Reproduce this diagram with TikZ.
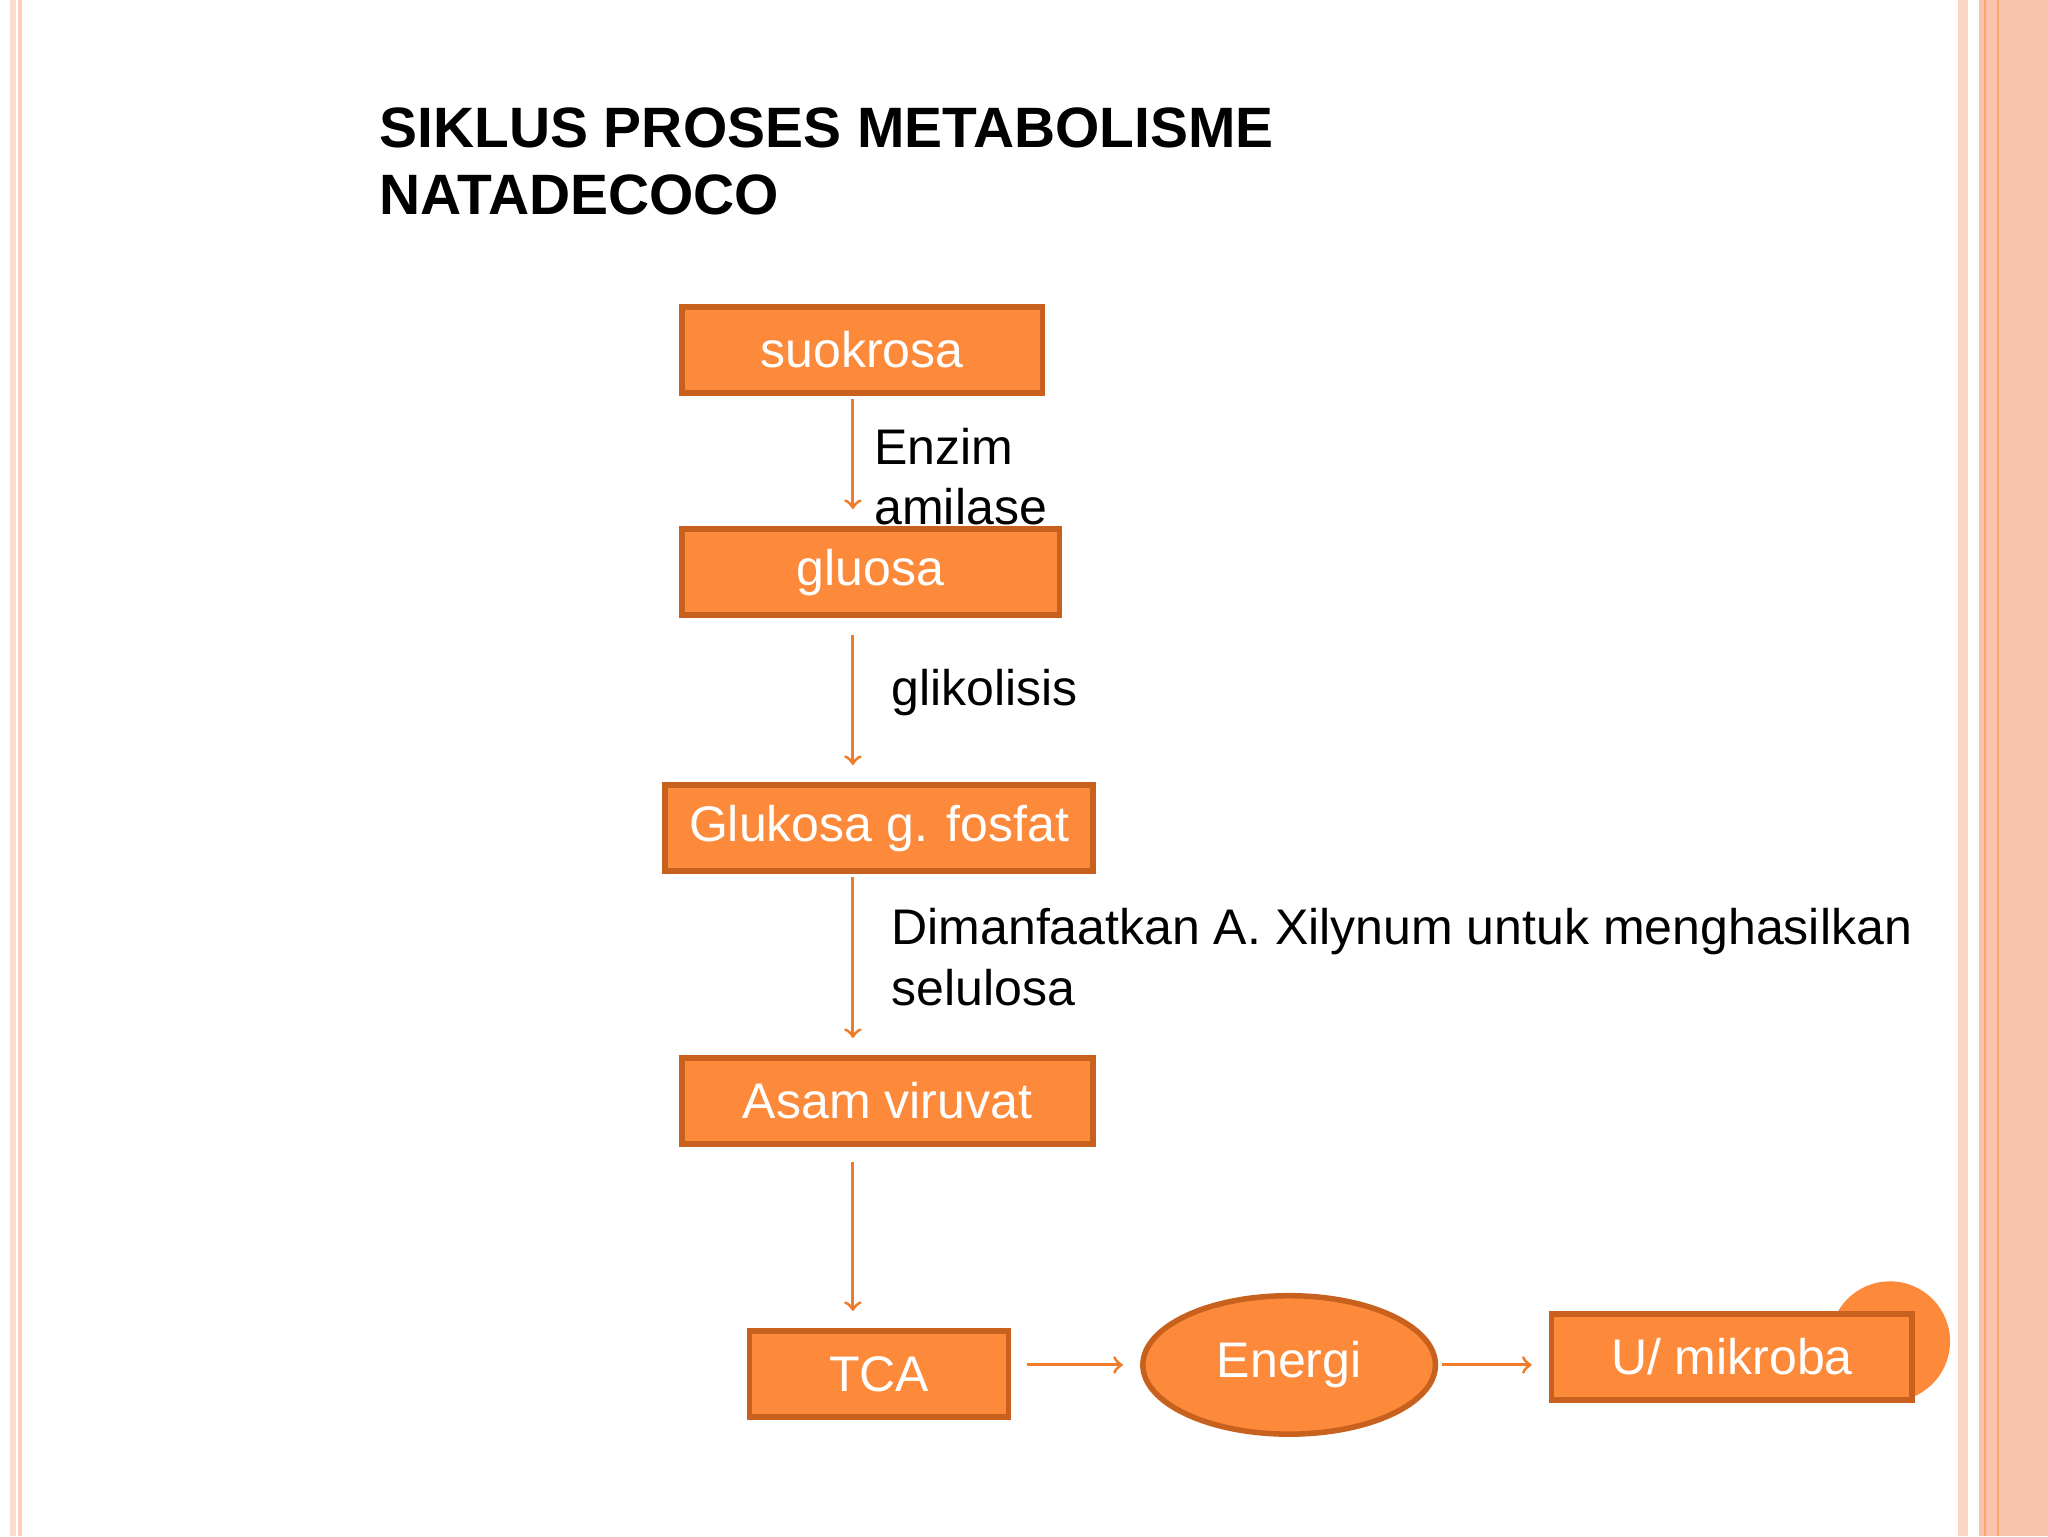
\documentclass[tikz,border=0pt]{standalone}
\usepackage{fontspec}
\setmainfont{Liberation Sans}
\usetikzlibrary{shapes.geometric}
\definecolor{boxfill}{HTML}{FD8A3A}
\definecolor{boxline}{HTML}{C8601E}
\definecolor{flow}{HTML}{F07C2A}
\definecolor{rim}{HTML}{F9C3AE}
\newcommand{\px}{0.0133cm}
\begin{document}
\begin{tikzpicture}[x=\px, y=-\px,
    stage/.style={draw=boxline, line width=1.6pt, fill=boxfill, text=white, font=\fontsize{14.5}{17}\selectfont, inner sep=0pt},
    flowarrow/.style={->, draw=flow, line width=0.9pt, shorten <=1pt, shorten >=5pt},
    note/.style={anchor=north west, align=left, font=\fontsize{14.5}{17.5}\selectfont, inner sep=0pt}]

        %page and border
        \useasboundingbox (0,0) rectangle (1568,1176);
        \fill[white] (0,0) rectangle (1568,1176);
        \fill[rim!60] (8,0) rectangle (12,1176);
        \fill[rim!80] (14,0) rectangle (17,1176);
        \fill[rim!70] (1499,0) rectangle (1507,1176);
        \fill[rim] (1515,0) rectangle (1568,1176);
        \draw[rim!60!orange, line width=0.6pt] (1520,0) -- (1520,1176) (1530,0) -- (1530,1176);

        %title
        \node[anchor=north west, align=left, inner sep=0pt, font=\bfseries\fontsize{16.5}{19.5}\selectfont] (title) at (290,82)
        {SIKLUS PROSES METABOLISME\\NATADECOCO};

        %labels
        \node[note] (enz) at (669,327) {Enzim\\amilase};
        \node[note] (gli) at (682,512) {glikolisis};
        \node[note] (dim) at (682,695) {Dimanfaatkan A. Xilynum untuk menghasilkan\\selulosa};

        %stages
        \fill[boxfill] (1447,1027) circle (46);
        \node[stage, minimum width=276*\px, minimum height=66*\px] (suo) at (660,268) {suokrosa};
        \node[stage, minimum width=289*\px, minimum height=66*\px] (glu) at (666.5,438) {gluosa};
        \node[stage, minimum width=328*\px, minimum height=66*\px] (g6p) at (673,634) {Glukosa g. fosfat};
        \node[stage, minimum width=315*\px, minimum height=66*\px] (asv) at (679.5,843) {Asam viruvat};
        \node[stage, minimum width=198*\px, minimum height=66*\px] (tca) at (673,1052) {TCA};
        \node[stage, ellipse, inner sep=0pt, minimum width=224*\px, minimum height=106*\px] (ene) at (987,1045) {Energi};
        \node[stage, minimum width=276*\px, minimum height=66*\px] (mik) at (1326,1039) {U/ mikroba};

        %arrows
        \coordinate (ax) at (653,0);
        \draw[flowarrow] (suo.south -| ax) -- (glu.north -| ax);
        \draw[flowarrow, shorten <=5pt] (glu.south -| ax) -- (g6p.north -| ax);
        \draw[flowarrow] (g6p.south -| ax) -- (asv.north -| ax);
        \draw[flowarrow, shorten <=4.5pt] (asv.south -| ax) -- (tca.north -| ax);
        \draw[flowarrow, shorten <=4.5pt] (tca.east |- ene) -- (ene.west);
        \draw[flowarrow] (ene.east) -- (mik.west |- ene);

\end{tikzpicture}
\end{document}
